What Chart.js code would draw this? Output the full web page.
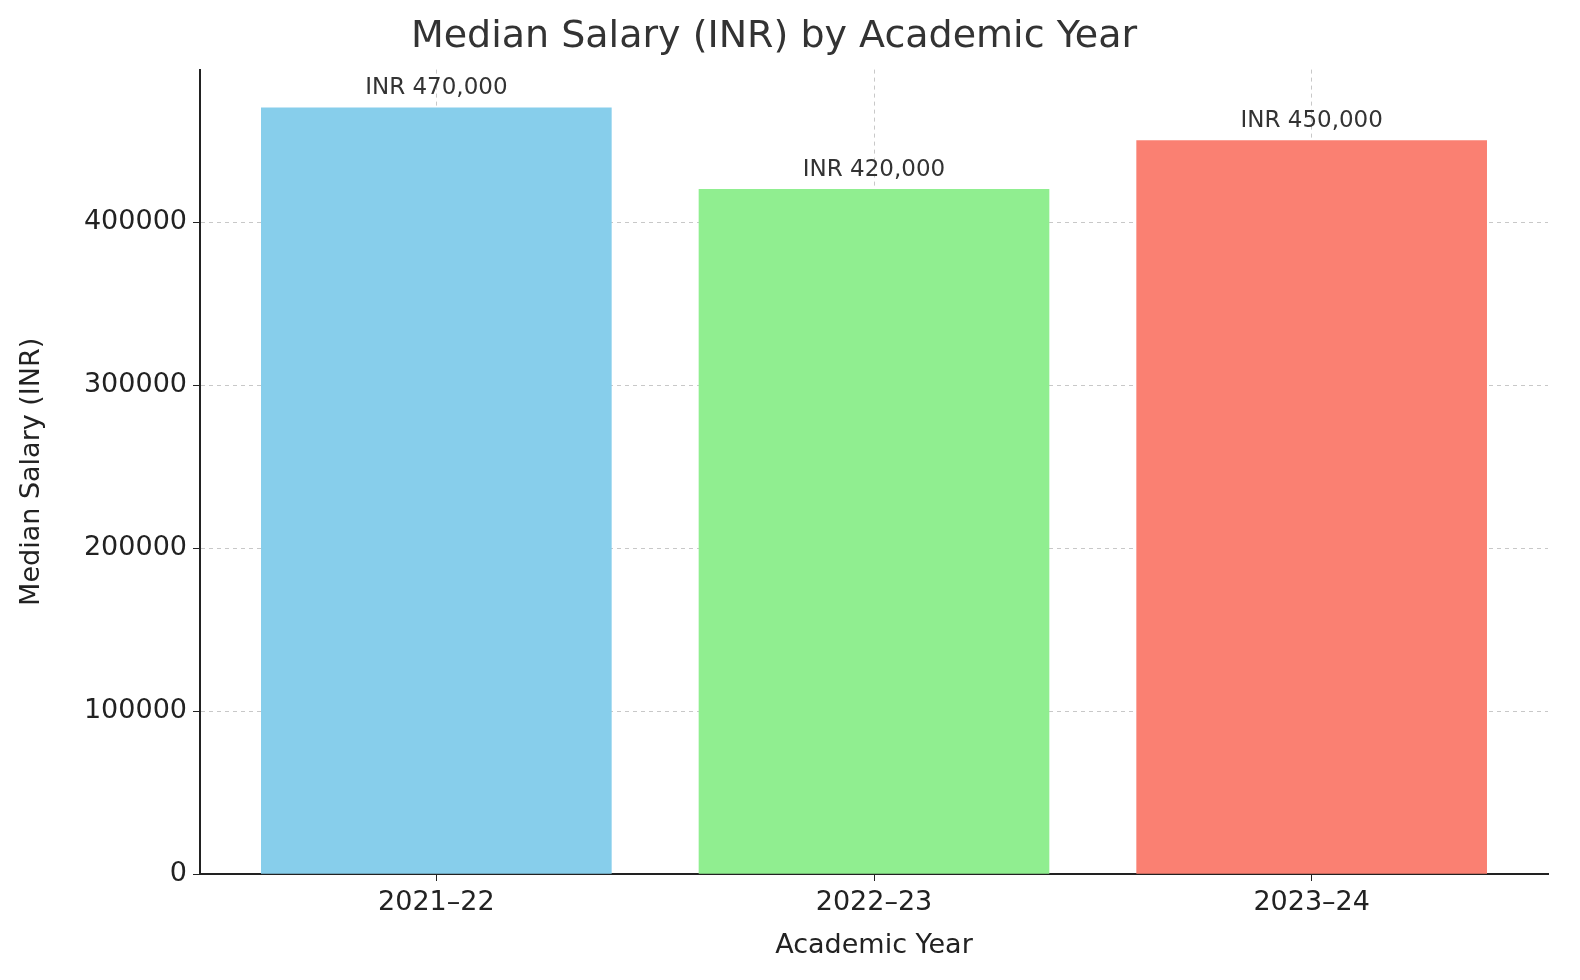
<!DOCTYPE html>
<html><head><meta charset="utf-8">
<script src="https://cdn.jsdelivr.net/npm/chart.js@4"></script>
<style>body{margin:0;background:#fff}</style>
</head><body>
<canvas id="c" width="1580" height="980" style="width:1580px;height:980px"></canvas>
<script>
const categories = ["2021–22", "2022–23", "2023–24"];
const salaries = [470000, 420000, 450000];
const labels = ["INR 470,000", "INR 420,000", "INR 450,000"];
const yTicks = [0, 100000, 200000, 300000, 400000];
const colors = ["#87CEEB", "#90EE90", "#FA8072"];
const FONT = "'DejaVu Sans', sans-serif";

const valueLabels = {
  id: 'valueLabels',
  afterDatasetsDraw(chart) {
    const ctx = chart.ctx, meta = chart.getDatasetMeta(0);
    ctx.save();
    ctx.font = "23px " + FONT; ctx.fillStyle = "#333"; ctx.textAlign = "center"; ctx.textBaseline = "bottom";
    meta.data.forEach((b, i) => ctx.fillText(labels[i], b.x, b.y - 8));
    ctx.restore();
  }
};
const isInt = c => Number.isInteger(c.tick.value);

new Chart(document.getElementById('c'), {
  type: 'bar',
  data: { datasets: [{ data: salaries.map((v, i) => ({x: i, y: v})), backgroundColor: colors, barThickness: 350 }] },
  options: {
    responsive: false, animation: false, devicePixelRatio: 1,
    layout: { padding: { right: 32 } },
    plugins: {
      legend: { display: false }, tooltip: { enabled: false },
      title: { display: true, text: "Median Salary (INR) by Academic Year", color: "#333",
        font: { family: FONT, size: 38, weight: 'normal' }, padding: { top: 14, bottom: 10 } }
    },
    scales: {
      x: {
        type: 'linear', min: -0.54, max: 2.54, offset: false,
        afterFit: s => { s.height = 106; },
        ticks: { stepSize: 1, callback: v => Number.isInteger(v) ? categories[v] : '', color: "#222", font: { family: FONT, size: 27 }, padding: 6 },
        grid: { offset: false, color: c => isInt(c) ? "#c8c8c8" : "transparent", tickColor: c => isInt(c) ? "#222" : "transparent", tickLength: 7 },
        border: { color: "#222", width: 2, dash: [4, 4] },
        title: { display: true, text: "Academic Year", color: "#222", font: { family: FONT, size: 27 }, padding: { top: 4, bottom: 18 } }
      },
      y: {
        min: 0, max: 493500,
        afterBuildTicks: s => { s.ticks = yTicks.map(v => ({value: v})); },
        afterFit: s => { s.width = 200; },
        ticks: { callback: v => String(v), color: "#222", font: { family: FONT, size: 27 }, padding: 6 },
        grid: { color: "#c8c8c8", tickColor: "#222", tickLength: 7 },
        border: { color: "#222", width: 2, dash: [4, 4] },
        title: { display: true, text: "Median Salary (INR)", color: "#222", font: { family: FONT, size: 27 }, padding: { top: 16 } }
      }
    }
  },
  plugins: [valueLabels]
});
</script>
</body></html>
